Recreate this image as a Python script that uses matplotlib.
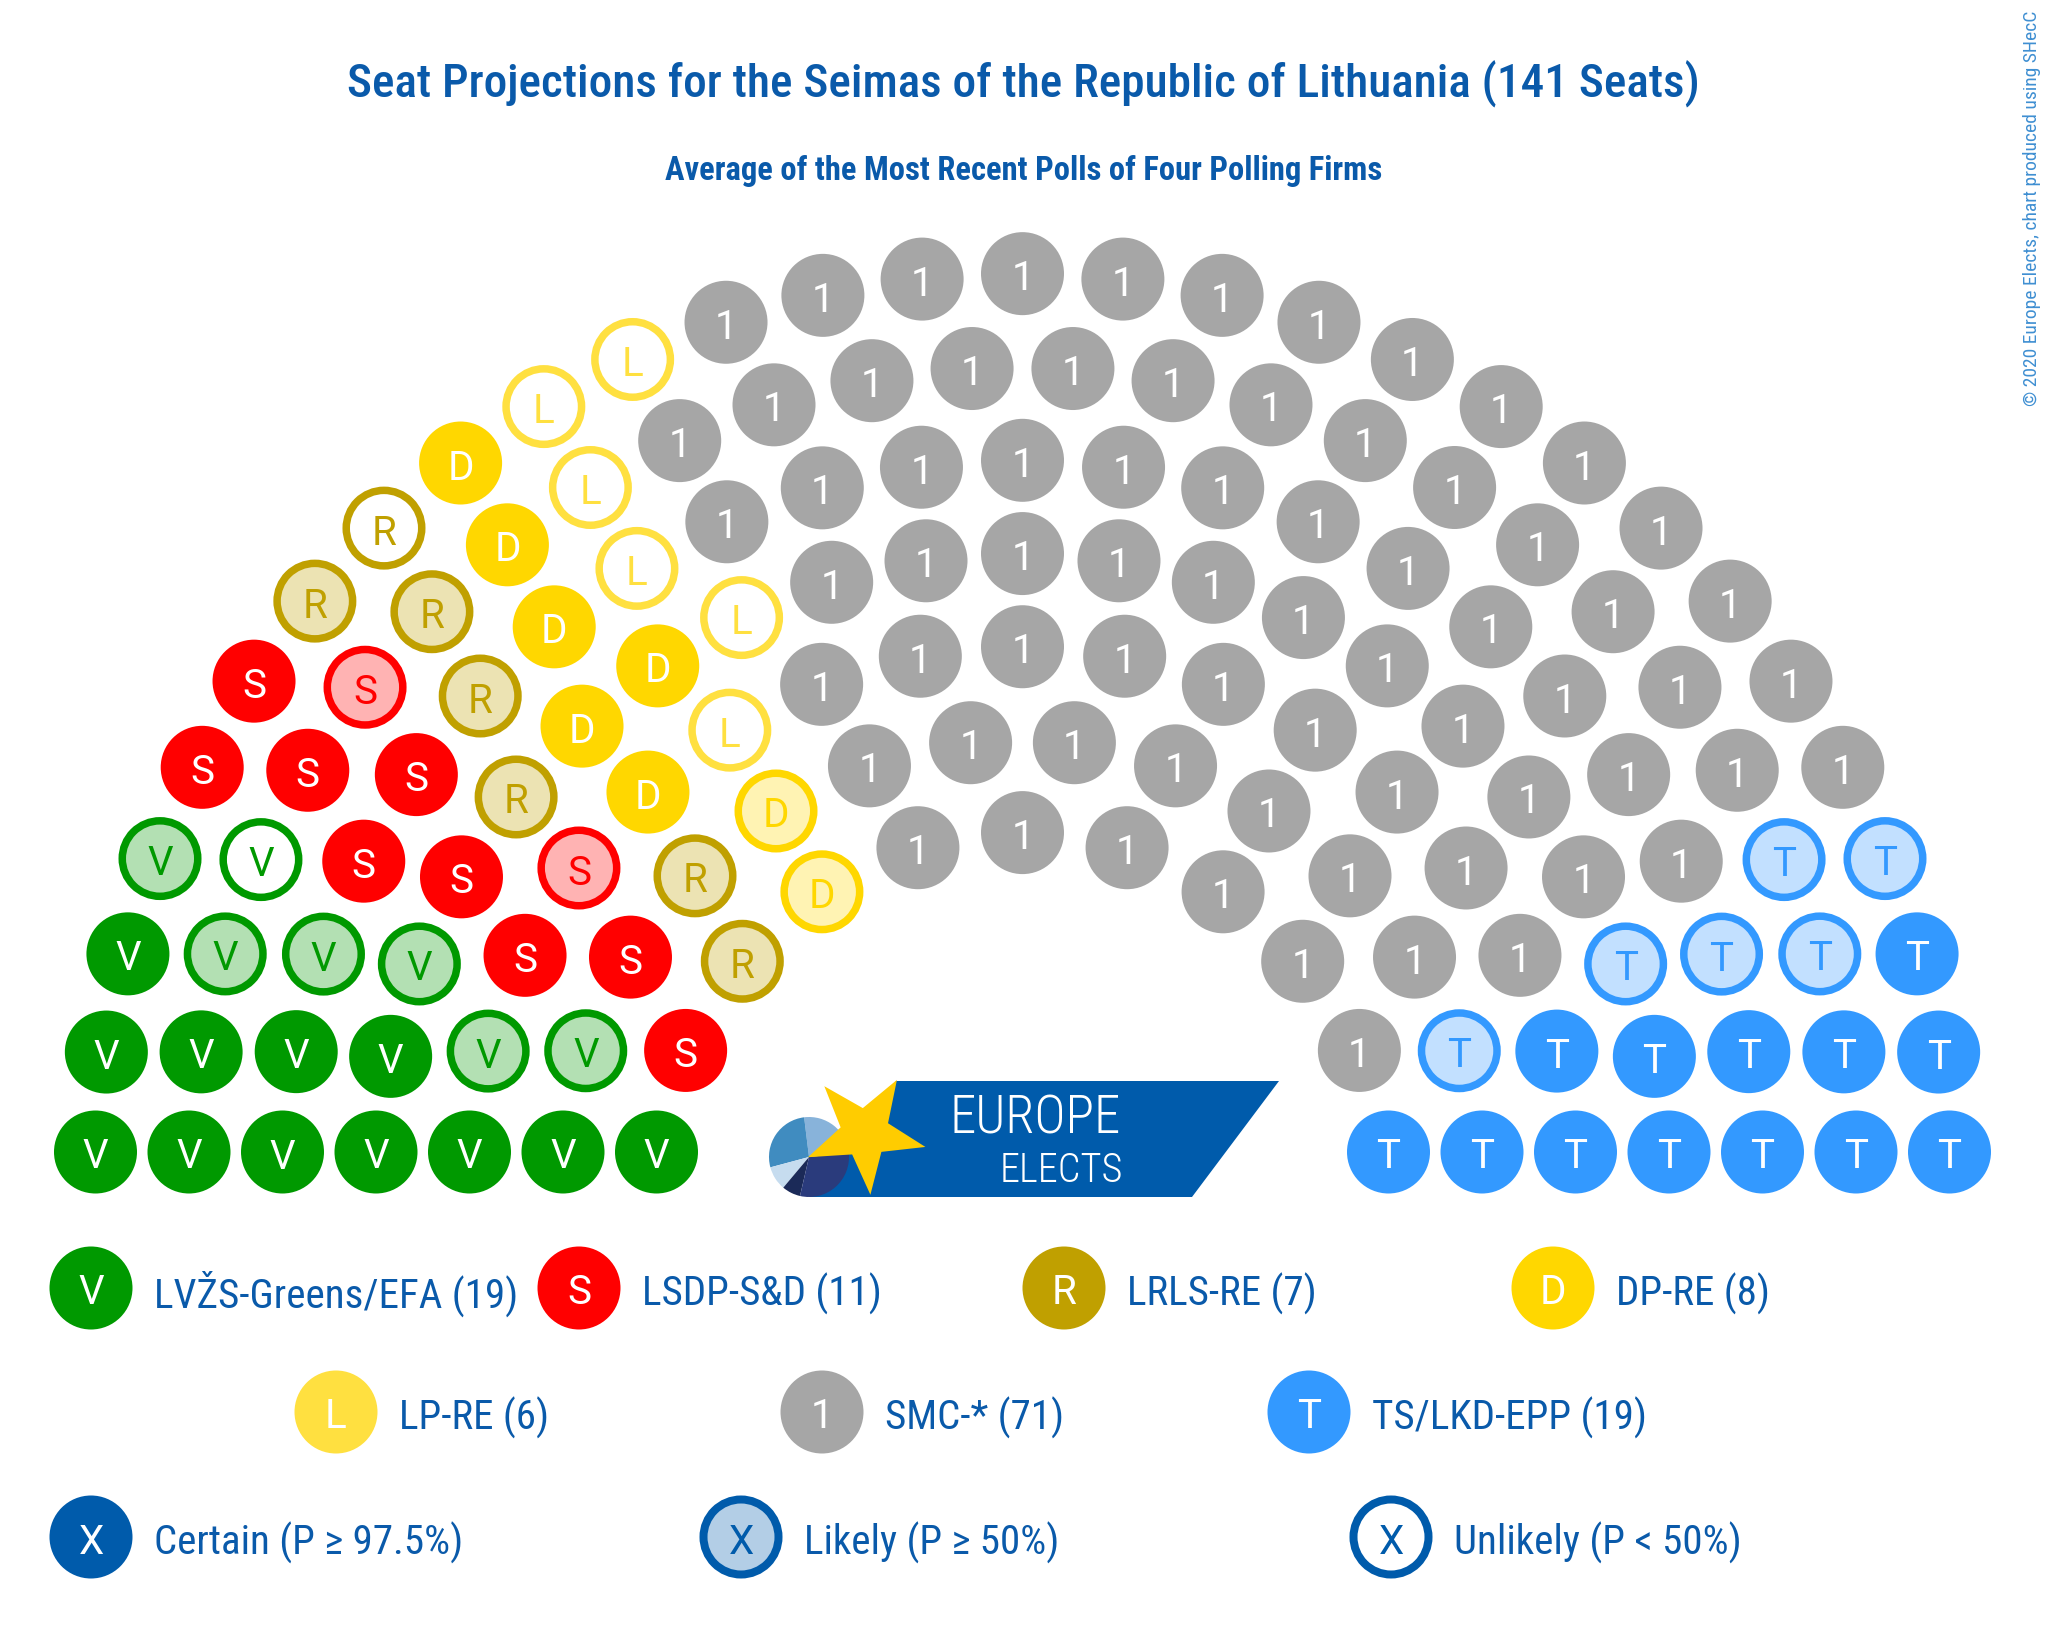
import math
import matplotlib
matplotlib.use("Agg")
import matplotlib.pyplot as plt
from matplotlib.colors import to_rgb
from matplotlib.patches import Circle, Polygon, Wedge

# =========================
# DATA
# =========================
letters = ["V", "S", "R", "D", "L", "1", "T"]
names = ["LVŽS-Greens/EFA", "LSDP-S&D", "LRLS-RE", "DP-RE", "LP-RE", "SMC-*", "TS/LKD-EPP"]
seats = [19, 11, 7, 8, 6, 71, 19]
certain = [12, 9, 0, 6, 0, 71, 13]
likely = [6, 2, 6, 2, 0, 0, 6]
unlikely = [1, 0, 1, 0, 6, 0, 0]
colors = ["#009900", "#ff0000", "#c0a000", "#ffd700", "#ffe040", "#a6a6a6", "#3399ff"]

row_seats = [11, 14, 17, 21, 23, 26, 29]

status_labels = ["Certain (P ≥ 97.5%)", "Likely (P ≥ 50%)", "Unlikely (P < 50%)"]

# =========================
# STYLE
# =========================
FONT = ["Roboto Condensed", "Roboto", "DejaVu Sans"]
SEAT_FONT = ["Roboto", "DejaVu Sans"]
BLUE = "#0a5aaa"
DARK = "#005bab"
R_SEAT = 41.5
BORDER = 7.5


def tint(c, a=0.3):
    r, g, b = to_rgb(c)
    return (1 - a * (1 - r), 1 - a * (1 - g), 1 - a * (1 - b))


def seat_mark(ax, x, y, col, status, letter):
    if status == "certain":
        ax.add_patch(Circle((x, y), R_SEAT, fc=col, ec="none"))
        tc = "white"
    else:
        fc = tint(col) if status == "likely" else "white"
        ax.add_patch(Circle((x, y), R_SEAT - BORDER / 2, fc=fc, ec=col,
                            lw=BORDER * 0.72))
        tc = col
    ax.text(x, y + 1, letter, color=tc, fontsize=29, family=SEAT_FONT,
            fontweight="normal", ha="center", va="center_baseline")


fig = plt.figure(figsize=(20.48, 16.29), dpi=100)
ax = fig.add_axes([0, 0, 1, 1])
ax.set_xlim(0, 2048)
ax.set_ylim(1629, 0)
ax.axis("off")

# =========================
# HEMICYCLE LAYOUT
# =========================
cx, cy = 1022.5, 1202.0
h_inner, h_step, lift = 366.0, 93.5, 50.0

positions = []
for i, n in enumerate(row_seats):
    h = h_inner + h_step * i
    r = math.hypot(h, lift)
    a0 = math.atan2(lift, h)
    for k in range(n):
        a = a0 + k * (math.pi - 2 * a0) / (n - 1)
        positions.append((a, cx + r * math.cos(a), cy - r * math.sin(a)))

positions.sort(key=lambda p: -p[0])

start = 0
for p, n in enumerate(seats):
    block = positions[start:start + n]
    start += n
    mean_angle = sum(b[0] for b in block) / n
    order = ["certain"] * certain[p] + ["likely"] * likely[p] + ["unlikely"] * unlikely[p]
    if mean_angle < math.pi / 2:
        order = order[::-1]
    for (a, x, y), st in zip(block, order):
        seat_mark(ax, x, y, colors[p], st, letters[p])

# =========================
# LOGO
# =========================
ax.add_patch(Polygon([(809, 1197), (896, 1081), (1279, 1081), (1192, 1197)],
                     closed=True, fc="#005bab", ec="none"))
pc = (809, 1157)
for t1, t2, c in [(6, 97, "#88b3da"), (97, 195, "#408cc0"), (195, 230, "#c6dcef"),
                  (230, 257, "#1b2a58"), (257, 366, "#2a3b7c")]:
    # y axis is inverted, so mirror the angles
    ax.add_patch(Wedge(pc, 40, -t2, -t1, fc=c, ec="none"))
star = []
sc = (865, 1133)
for k in range(10):
    rr = 62 if k % 2 == 0 else 25
    ang = math.radians(59 + 36 * k)
    star.append((sc[0] + rr * math.cos(ang), sc[1] - rr * math.sin(ang)))
ax.add_patch(Polygon(star, closed=True, fc="#ffcc00", ec="none"))
ax.text(1121, 1133, "EUROPE", color="white", fontsize=38, family=FONT,
        fontweight="light", ha="right", va="baseline")
ax.text(1123, 1182, "ELECTS", color="white", fontsize=29, family=FONT,
        fontweight="light", ha="right", va="baseline")

# =========================
# TITLES
# =========================
ax.text(1023, 98, "Seat Projections for the Seimas of the Republic of Lithuania (141 Seats)",
        color=BLUE, fontsize=34, family=FONT, fontweight="medium",
        ha="center", va="baseline")
ax.text(1024, 180, "Average of the Most Recent Polls of Four Polling Firms",
        color=BLUE, fontsize=23.5, family=FONT, fontweight="bold",
        ha="center", va="baseline")
ax.text(2032, 208, "© 2020 Europe Elects, chart produced using SHecC",
        color="#3f8fd2", fontsize=14, family=FONT, rotation=90,
        ha="center", va="center")

# =========================
# LEGEND
# =========================
leg_xy = [(91, 1288), (579, 1288), (1064, 1288), (1553, 1288),
          (336, 1412), (822, 1412), (1309, 1412)]
for p, (x, y) in enumerate(leg_xy):
    seat_mark(ax, x, y, colors[p], "certain", letters[p])
    ax.text(x + 63, y + 1, f"{names[p]} ({seats[p]})", color=BLUE, fontsize=29.5,
            family=FONT, ha="left", va="center_baseline")

stat_xy = [(91, 1537), (741, 1537), (1391, 1537)]
for (x, y), st, lab in zip(stat_xy, ["certain", "likely", "unlikely"], status_labels):
    if st == "certain":
        ax.add_patch(Circle((x, y), R_SEAT, fc=DARK, ec="none"))
        tc = "white"
    else:
        fc = tint(DARK) if st == "likely" else "white"
        ax.add_patch(Circle((x, y), R_SEAT - 4, fc=fc, ec=DARK, lw=8 * 0.72))
        tc = DARK
    ax.text(x, y + 1, "X", color=tc, fontsize=29, family=SEAT_FONT,
            fontweight="normal", ha="center", va="center_baseline")
    ax.text(x + 63, y + 1, lab, color=BLUE, fontsize=29.5, family=FONT,
            ha="left", va="center_baseline")

fig.savefig("out.png", dpi=100, facecolor="white")
